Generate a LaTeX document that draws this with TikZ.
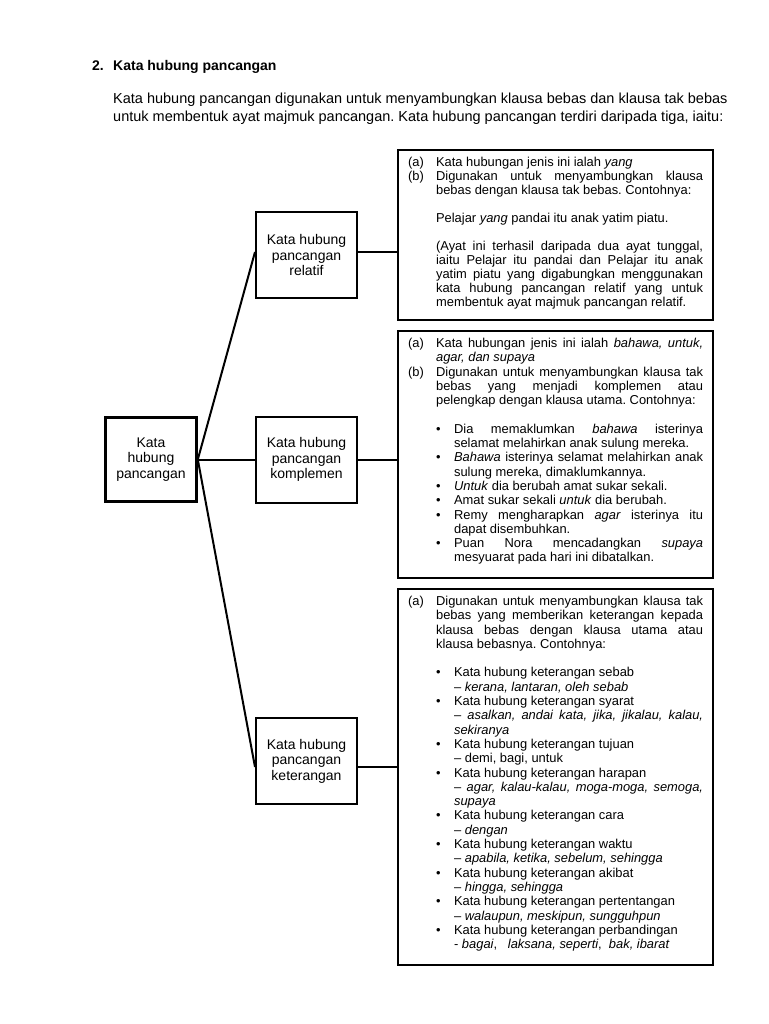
\documentclass[tikz,border=0pt]{standalone}
\usepackage{fontspec}
\setmainfont{Liberation Sans}
\usepackage{tikz}
\usetikzlibrary{positioning}
\frenchspacing

% Baris bertanda (a), (b)
\newcommand{\butir}[2]{\par\noindent\hangindent=28pt\hangafter=1\makebox[28pt][l]{#1}#2\par}
% Baris sambungan tanpa tanda
\newcommand{\sambung}[1]{\par\noindent\hangindent=28pt\hangafter=0 #1\par}
% Baris berbulet
\newcommand{\titik}[1]{\par\noindent\hangindent=46pt\hangafter=1\hspace*{28pt}\makebox[18pt][l]{\textbullet}#1\par}
\newcommand{\kosong}{\par\vspace{\baselineskip}}
\newcommand{\pad}[1]{\rule[-#1]{0pt}{#1}}

\begin{document}
\begin{tikzpicture}[x=1pt,y=-1pt,
  kotak/.style={draw, line width=2.2pt, anchor=north west, text width=295pt,
    inner xsep=10pt, inner ysep=2pt, align=justify,
    font=\fontsize{12.9}{14.3}\selectfont},
  label/.style={draw, line width=2pt, minimum width=101pt, minimum height=86pt,
    inner sep=0pt, align=center, font=\fontsize{14}{15.5}\selectfont},
  garis/.style={line width=2pt},
  garisb/.style={line width=2pt}]
\useasboundingbox[fill=white] (0,0) rectangle (768,1024);

% Judul dan pengenalan
\node[anchor=base west, inner sep=0pt, font=\fontsize{14}{17}\selectfont\bfseries] (judul) at (92,71)
  {\makebox[21pt][l]{2.}Kata hubung pancangan};
\node[anchor=north west, inner sep=0pt, align=left, font=\fontsize{14.5}{18.5}\selectfont] (pengenalan) at (113,92.5)
  {Kata hubung pancangan digunakan untuk menyambungkan klausa bebas dan klausa tak bebas\\
   untuk membentuk ayat majmuk pancangan. Kata hubung pancangan terdiri daripada tiga, iaitu:};

% Kotak kiri dan tengah
\node[label, line width=2.6pt, minimum width=91pt, minimum height=84pt] (induk) at (151,459.5) {Kata\\hubung\\pancangan};
\node[label] (relatif) at (306.5,255) {Kata hubung\\pancangan\\relatif};
\node[label] (komplemen) at (306.5,459.5) {Kata hubung\\pancangan\\komplemen};
\node[label] (keterangan) at (306.5,761) {Kata hubung\\pancangan\\keterangan};

% Kotak penerangan
\node[kotak, font=\fontsize{12.9}{14}\selectfont] (r1) at (397,149) {%
\butir{(a)}{Kata hubungan jenis ini ialah \emph{yang}}
\butir{(b)}{Digunakan untuk menyambungkan klausa\linebreak bebas dengan klausa tak bebas. Contohnya:}
\kosong
\sambung{Pelajar \emph{yang} pandai itu anak yatim piatu.}
\kosong
\sambung{(Ayat ini terhasil daripada dua ayat tunggal,\linebreak iaitu Pelajar itu pandai dan Pelajar itu anak\linebreak yatim piatu yang digabungkan menggunakan\linebreak kata hubung pancangan relatif yang untuk\linebreak membentuk ayat majmuk pancangan relatif.\pad{12pt}}};

\node[kotak] (r2) at (397,330) {%
\butir{(a)}{Kata hubungan jenis ini ialah \emph{bahawa, untuk,}\linebreak \emph{agar, dan supaya}}
\butir{(b)}{Digunakan untuk menyambungkan klausa tak\linebreak bebas yang menjadi komplemen atau\linebreak pelengkap dengan klausa utama. Contohnya:}
\kosong
\titik{Dia memaklumkan \emph{bahawa} isterinya\linebreak selamat melahirkan anak sulung mereka.}
\titik{\emph{Bahawa} isterinya selamat melahirkan anak\linebreak sulung mereka, dimaklumkannya.}
\titik{\emph{Untuk} dia berubah amat sukar sekali.}
\titik{Amat sukar sekali \emph{untuk} dia berubah.}
\titik{Remy mengharapkan \emph{agar} isterinya itu\linebreak dapat disembuhkan.}
\titik{Puan Nora mencadangkan \emph{supaya}\linebreak mesyuarat pada hari ini dibatalkan.\pad{14pt}}};

\node[kotak] (r3) at (397,588) {%
\butir{(a)}{Digunakan untuk menyambungkan klausa tak\linebreak bebas yang memberikan keterangan kepada\linebreak klausa bebas dengan klausa utama atau\linebreak klausa bebasnya. Contohnya:}
\kosong
\titik{Kata hubung keterangan sebab\newline – \emph{kerana, lantaran, oleh sebab}}
\titik{Kata hubung keterangan syarat\newline – \emph{asalkan, andai kata, jika, jikalau, kalau,}\linebreak \emph{sekiranya}}
\titik{Kata hubung keterangan tujuan\newline – demi, bagi, untuk}
\titik{Kata hubung keterangan harapan\newline – \emph{agar, kalau-kalau, moga-moga, semoga,}\linebreak \emph{supaya}}
\titik{Kata hubung keterangan cara\newline – \emph{dengan}}
\titik{Kata hubung keterangan waktu\newline – \emph{apabila, ketika, sebelum, sehingga}}
\titik{Kata hubung keterangan akibat\newline – \emph{hingga, sehingga}}
\titik{Kata hubung keterangan pertentangan\newline – \emph{walaupun, meskipun, sungguhpun}}
\titik{Kata hubung keterangan perbandingan\newline - \emph{bagai},\ \ \ \emph{laksana, seperti},\ \ \emph{bak, ibarat}\pad{14pt}}};

% Garis penghubung
\draw[garis] (induk.east) -- ([yshift=3pt]relatif.west);
\draw[garis] (induk.east) -- (komplemen.west);
\draw[garis] (induk.east) -- ([yshift=-6pt]keterangan.west);
\draw[garisb] ([yshift=3pt]relatif.east) -- ([yshift=3pt]relatif.east -| r1.west);
\draw[garisb] (komplemen.east) -- (komplemen.east -| r2.west);
\draw[garisb] ([yshift=-6pt]keterangan.east) -- ([yshift=-6pt]keterangan.east -| r3.west);
\end{tikzpicture}
\end{document}
